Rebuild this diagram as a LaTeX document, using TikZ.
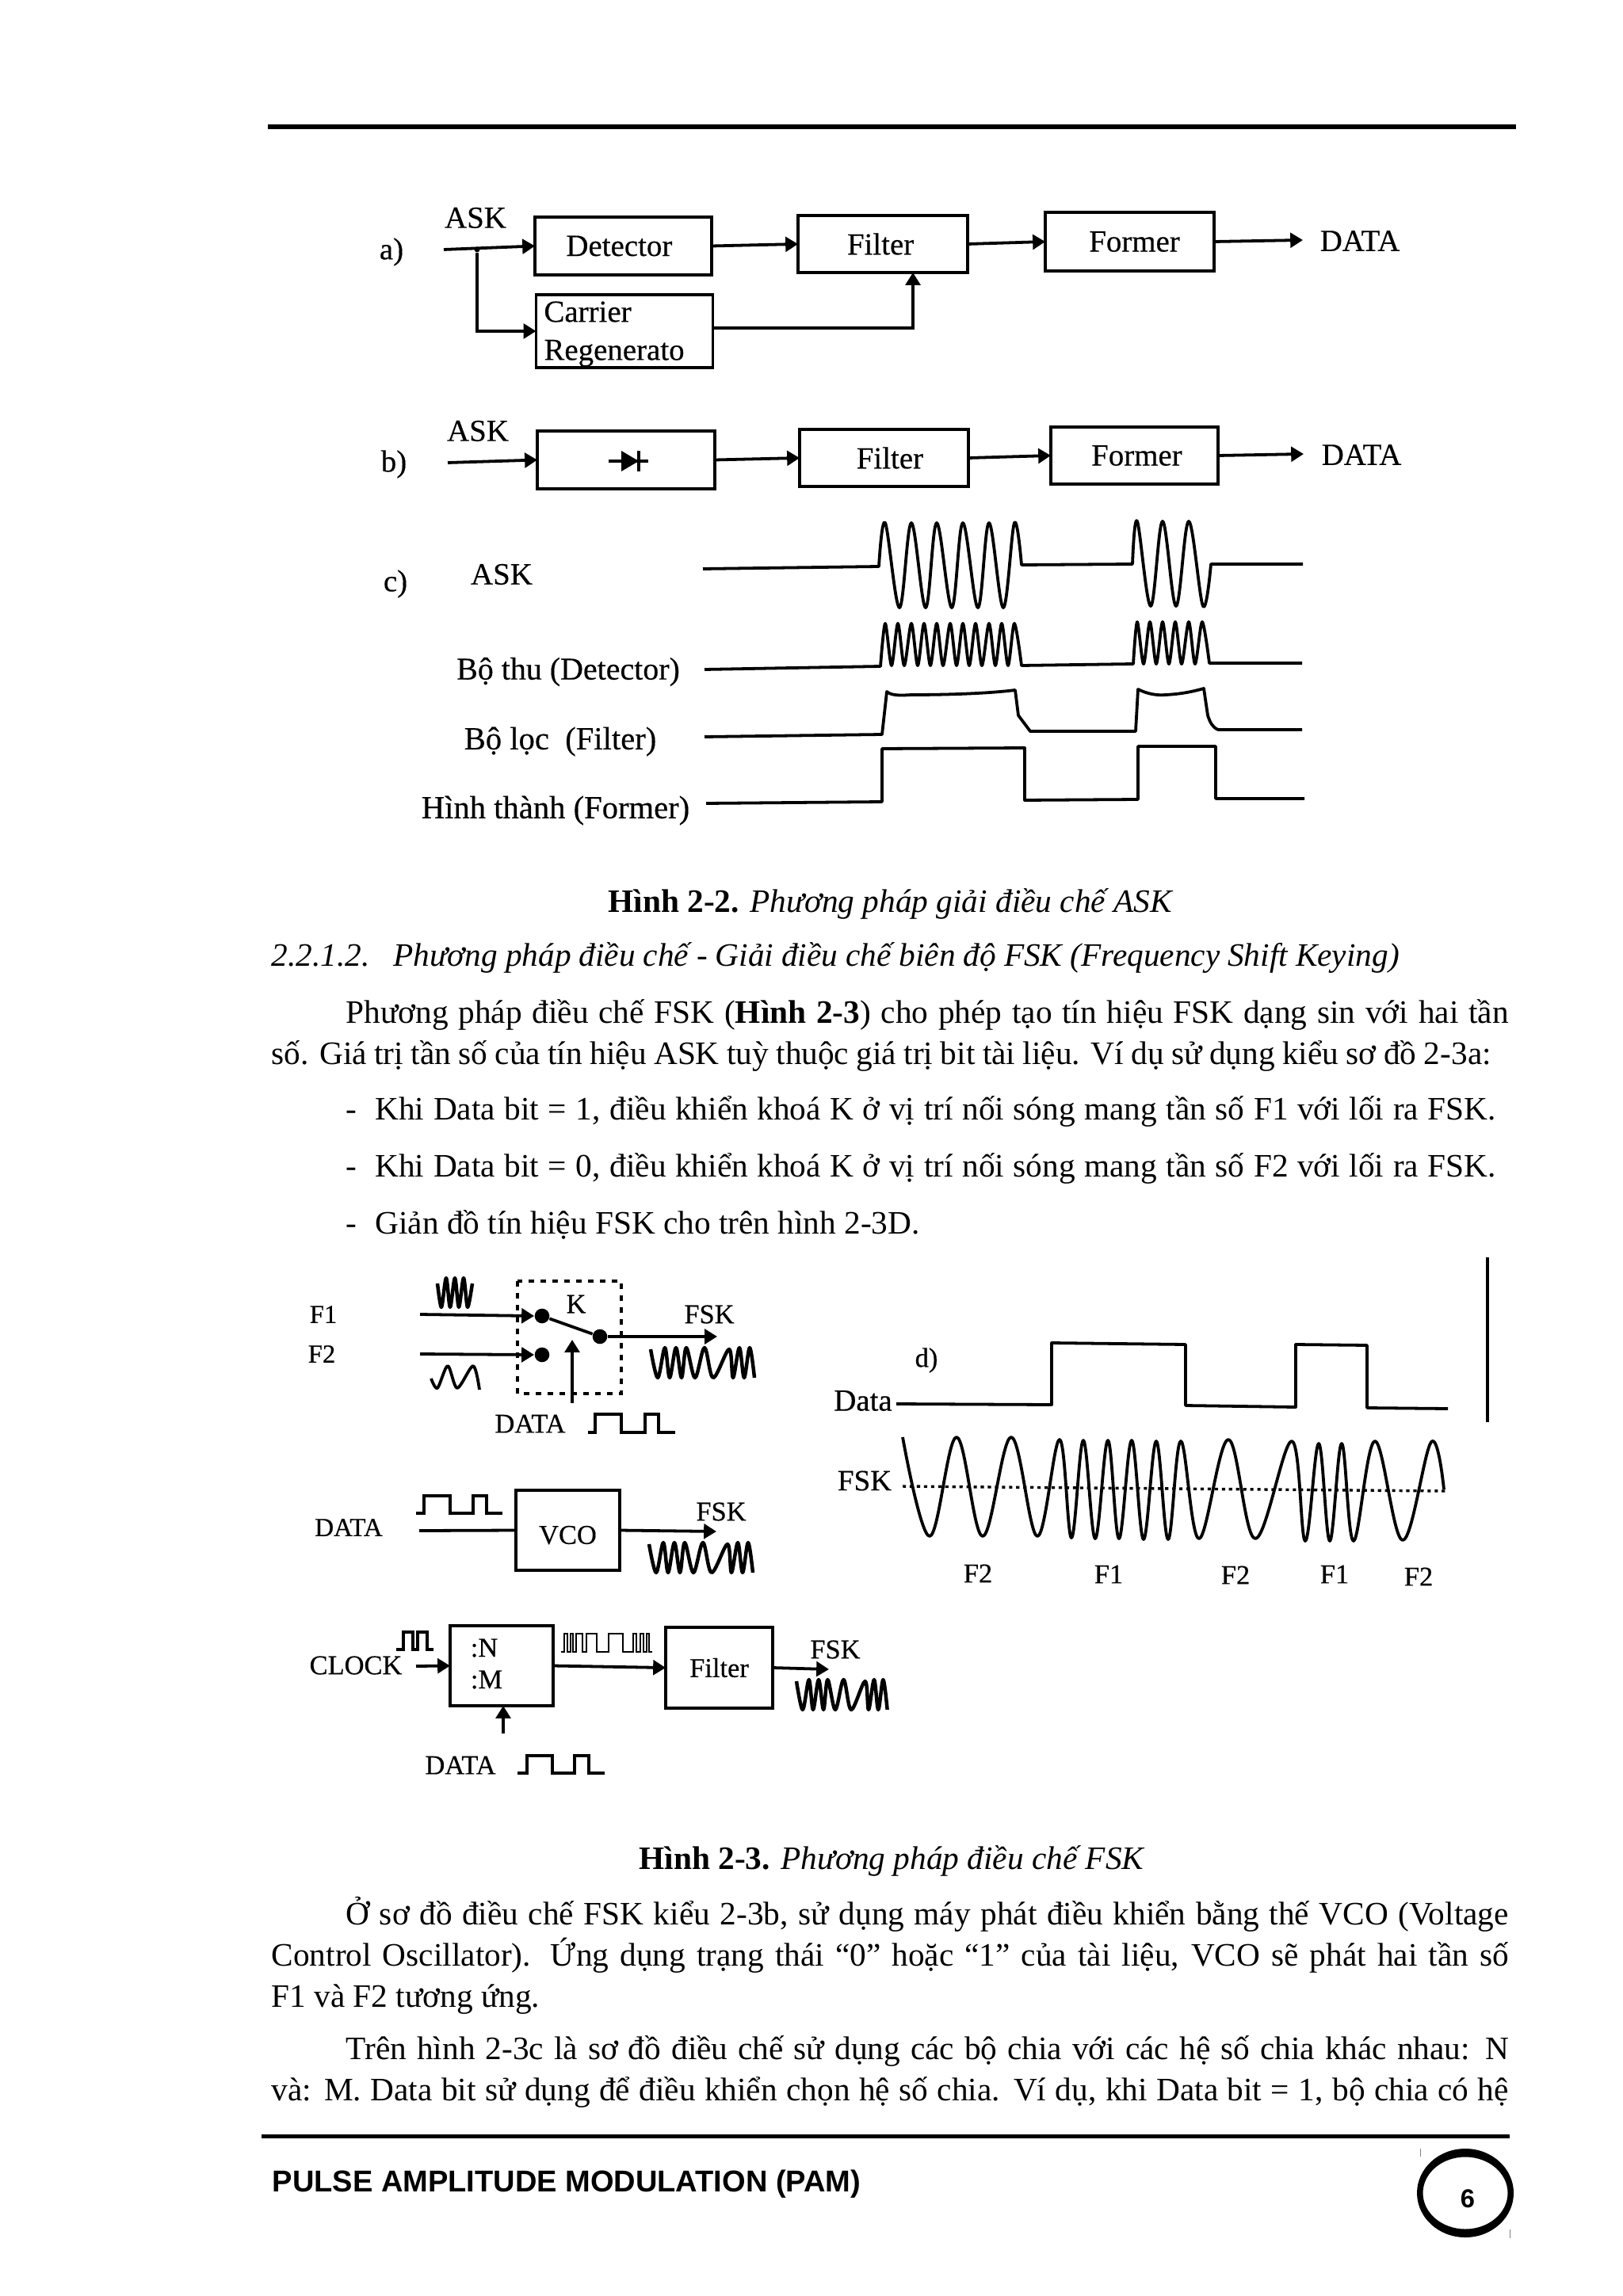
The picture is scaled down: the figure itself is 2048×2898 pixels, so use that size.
\documentclass[tikz,border=0pt]{standalone}
\usepackage{fontspec}
\usetikzlibrary{arrows.meta,calc}
\setmainfont{Liberation Serif}
\newfontfamily\scanfont[FakeBold=0.35]{Liberation Serif}
\newfontfamily\footfont{Liberation Sans}
\newdimen\pxu \pxu=0.2905pt
\newcommand\jline[5]{\node[bodytxt,anchor=base west] (#1) at (#2,#3) {\makebox[#4\pxu][s]{#5}};}
\newcommand\nline[4]{\node[bodytxt,anchor=base west] (#1) at (#2,#3) {#4};}
% name, x1,y1,x2,y2, text
\newcommand\bx[6]{\node[blk,minimum width={(#4-#2)*0.2905pt},minimum height={(#5-#3)*0.2905pt}] (#1) at ({(#2+#4)/2},{(#3+#5)/2}) {#6};}
\newcommand\minifsk[2]{\draw[wavefat,shift={(#1)},xscale=#2] plot[smooth,tension=.55] coordinates {(0,2)(9,38)(18,0)(24,38)(32,0)(39,38)(45,0)(56,38)(68,0)(79,38)(99,2)(104,38)(112,0)(118,38)(125,0)(131,38)};}
\tikzset{
  bodytxt/.style={font=\fontsize{12}{15}\selectfont,inner sep=0pt},
  big/.style={font=\scanfont\fontsize{11.3}{13}\selectfont,inner sep=0pt},
  mid/.style={font=\scanfont\fontsize{10}{12}\selectfont,inner sep=0pt},
  sml/.style={font=\scanfont\fontsize{9.5}{11}\selectfont,inner sep=0pt},
  blk/.style={draw,line width=1pt,inner sep=0pt,outer sep=0pt,font=\scanfont\fontsize{11.3}{13}\selectfont},
  blk2/.style={blk,font=\scanfont\fontsize{10}{12}\selectfont},
  arr/.style={line width=1.1pt,-{Triangle[length=4.6pt,width=5.4pt]}},
  plain/.style={line width=1.1pt},
  wave/.style={line width=1.1pt,line join=round},
  wavefat/.style={line width=1.3pt,line join=round},
  dotn/.style={circle,fill=black,inner sep=0pt,minimum size=5.4pt},
  pulse/.style={line width=.9pt,line join=miter},
}
\begin{document}
\begin{tikzpicture}[x=0.2905pt,y=-0.2905pt]
\useasboundingbox (0,0) rectangle (2048,2898);
\fill[white] (0,0) rectangle (2048,2898);
\fill[black] (338,157) rectangle (1913,163);
% ---- a)
\node[big] (la) at (494,318) {a)};
\node[big] (aska) at (600,275) {ASK};
\bx{det}{675}{274}{898}{347}{Detector\kern 3pt}
\bx{fila}{1007}{272}{1221}{344}{Filter\kern 1.7pt}
\bx{fora}{1319}{268}{1532}{342}{\kern 3.5ptFormer}
\node[blk,minimum height=92\pxu,text width=59pt,inner xsep=2.9pt,align=left] (car) at (788,418)
  {\rule{0pt}{9.6pt}Carrier\\[1pt]Regenerato};
\coordinate (ina) at (560,315);
\node[circle,fill=black,inner sep=0pt,minimum size=2pt] (ja) at (602,315) {};
\node[big,anchor=west] (dataa) at (1665,304) {DATA};
\coordinate (outa) at (1644,303);
\draw[arr] (ina) -- (det.west);
\draw[arr] (ja) |- (car.west);
\draw[arr] (det.east) -- (fila.west);
\draw[arr] (fila.east) -- (fora.west);
\draw[arr] (fora.east) -- (outa);
\draw[arr] ($(car.east)+(0,-4)$) -| ($(fila.south)+(38,0)$);
% ---- b)
\node[big] (lb) at (497,586) {b)};
\node[big] (askb) at (603,544) {ASK};
\bx{dio}{678}{544}{902}{617}{}
\bx{filb}{1009}{542}{1222}{614}{\kern 4.3ptFilter}
\bx{forb}{1326}{539}{1537}{611}{\kern 1.7ptFormer}
\coordinate (inb) at (565,584);
\coordinate (outb) at (1645,573);
\node[big,anchor=west] (datab) at (1667,574) {DATA};
\draw[arr] (inb) -- (dio.west);
\draw[arr] (dio.east) -- (filb.west);
\draw[arr] (filb.east) -- (forb.west);
\draw[arr] (forb.east) -- (outb);
\draw[line width=1.1pt] (768,582) -- (818,582);
\fill (784,569) -- (806,582) -- (784,595) -- cycle;
\draw[line width=1.1pt] (806,569) -- (806,595);
% ---- c)
\node[big] (lc) at (499,737) {c)};
\node[big] (askc) at (633,725) {ASK};
\node[big,font=\scanfont\fontsize{11.6}{13}\selectfont] (ldet) at (717,848) {Bộ thu (Detector)};
\node[big,font=\scanfont\fontsize{11.8}{13}\selectfont] (lfil) at (707,936) {Bộ lọc\ \ (Filter)};
\node[big,font=\scanfont\fontsize{11.8}{13}\selectfont] (lfor) at (701,1023) {Hình thành (Former)};
\draw[wave] (887,718) -- (1109,715) -- plot[smooth,tension=.6] coordinates {(1109,715)(1117,660)(1135,767)(1150,660)(1168,767)(1182,660)(1201,767)(1215,660)(1234,767)(1248,660)(1266,767)(1280,660)(1289,713)}
  -- (1429,712) -- plot[smooth,tension=.6] coordinates {(1429,712)(1435,658)(1452,765)(1467,658)(1484,765)(1500,658)(1518,765)(1528,712)} -- (1644,712);
\draw[wave] (889,845) -- (1111,841) -- plot[smooth,tension=.5] coordinates {(1111,841)(1117,787)(1125,840)(1133,787)(1141,840)(1150,787)(1158,840)(1166,787)(1174,840)(1182,787)(1190,840)(1199,787)(1207,840)(1215,787)(1223,840)(1231,787)(1239,840)(1248,787)(1256,840)(1264,787)(1272,840)(1280,787)(1289,840)}
  -- (1430,838) -- plot[smooth,tension=.5] coordinates {(1430,838)(1435,785)(1443,838)(1451,785)(1459,838)(1467,785)(1475,838)(1483,785)(1491,838)(1500,785)(1508,838)(1517,785)(1526,837)} -- (1643,837);
\draw[wave] (889,930) -- (1113,927) -- (1119,873) .. controls (1125,878) and (1135,878) .. (1150,877) .. controls (1200,877) and (1250,875) .. (1281,871) -- (1285,903) -- (1300,923) -- (1433,923) -- (1436,870) .. controls (1448,876) and (1460,878) .. (1471,877) .. controls (1490,876) and (1505,873) .. (1519,869) -- (1524,903) .. controls (1527,912) and (1530,918) .. (1537,921) -- (1643,921);
\draw[wave] (891,1014) -- (1113,1012) -- (1113,945) -- (1293,944) -- (1293,1010) -- (1436,1009) -- (1436,942) -- (1534,942) -- (1534,1008) -- (1646,1008);
% ---- captions & text
\nline{cap2}{767}{1151}{\textbf{Hình 2-2.} \textit{Phương pháp giải điều chế ASK}}
\jline{sec}{342}{1219}{1423}{\textit{2.2.1.2.\ \ \ Phương pháp điều chế - Giải điều chế biên độ FSK (Frequency Shift Keying)}}
\jline{p1a}{436}{1291}{1467}{Phương pháp điều chế FSK (\textbf{Hình 2-3}) cho phép tạo tín hiệu FSK dạng sin với hai tần}
\jline{p1b}{342}{1343}{1539}{số. Giá trị tần số của tín hiệu ASK tuỳ thuộc giá trị bit tài liệu. Ví dụ sử dụng kiểu sơ đồ 2-3a:}
\jline{p2}{436}{1413}{1451}{-\hspace{6.7pt}Khi Data bit = 1, điều khiển khoá K ở vị trí nối sóng mang tần số F1 với lối ra FSK.}
\jline{p3}{436}{1485}{1451}{-\hspace{6.7pt}Khi Data bit = 0, điều khiển khoá K ở vị trí nối sóng mang tần số F2 với lối ra FSK.}
\nline{p4}{436}{1557}{-\hspace{6.7pt}Giản đồ tín hiệu FSK cho trên hình 2-3D.}
\nline{cap3}{806}{2359}{\textbf{Hình 2-3.} \textit{Phương pháp điều chế FSK}}
\jline{q1}{436}{2429}{1467}{Ở sơ đồ điều chế FSK kiểu 2-3b, sử dụng máy phát điều khiển bằng thế VCO (Voltage}
\jline{q2}{342}{2481}{1561}{Control Oscillator). Ứng dụng trạng thái “0” hoặc “1” của tài liệu, VCO sẽ phát hai tần số}
\nline{q3}{342}{2533}{F1 và F2 tương ứng.}
\jline{q4}{436}{2599}{1467}{Trên hình 2-3c là sơ đồ điều chế sử dụng các bộ chia với các hệ số chia khác nhau: N}
\jline{q5}{342}{2651}{1561}{và: M. Data bit sử dụng để điều khiển chọn hệ số chia. Ví dụ, khi Data bit = 1, bộ chia có hệ}
% ---- FSK a
\node[sml] (f1) at (408,1659) {F1};
\node[sml] (f2) at (406,1709) {F2};
\draw[line width=1pt,dash pattern=on 7\pxu off 8\pxu] (653,1617) rectangle (784,1759);
\node[dotn] (d1) at (684,1661) {};
\node[dotn] (d2) at (684,1710) {};
\node[dotn] (d3) at (757,1687) {};
\coordinate (if1) at (530,1659);
\coordinate (if2) at (530,1709);
\coordinate (ofs) at (905,1687);
\coordinate (ku) at (722,1771);
\coordinate (kt) at (722,1691);
\draw[arr] (if1) -- (d1.west);
\draw[arr] (if2) -- (d2.west);
\draw[line width=1.1pt] (d1) -- (d3);
\draw[arr] (d3) -- (ofs);
\draw[arr] (ku) -- (kt);
\node[mid] (kk) at (727,1646) {K};
\node[mid] (fska) at (895,1659) {FSK};
\node[mid] (dta) at (669,1797) {DATA};
\draw[wavefat] plot[smooth,tension=.5] coordinates {(552,1620)(557,1650)(563,1613)(568,1650)(574,1613)(579,1650)(585,1613)(590,1650)(596,1620)};
\draw[wave] plot[smooth,tension=.5] coordinates {(544,1740)(552,1752)(565,1724)(577,1752)(597,1724)(605,1754)};
\draw[pulse] (742,1808) -- (751,1808) -- (751,1785) -- (784,1785) -- (784,1808) -- (814,1808) -- (814,1785) -- (831,1785) -- (831,1808) -- (852,1808);
\minifsk{821,1701}{1}
% ---- FSK b
\node[sml,font=\scanfont\fontsize{9.6}{11}\selectfont] (dtb) at (440,1928) {DATA};
\node[blk2,minimum width=131\pxu,minimum height=101\pxu] (vco) at (716.5,1931.5) {\raisebox{-5pt}[0pt][0pt]{VCO}};
\coordinate (ivco) at (529,1932);
\coordinate (ovco) at (904,1933);
\draw[plain] (ivco) -- (vco.west);
\draw[arr] (vco.east) -- (ovco);
\node[mid] (fskb) at (910,1908) {FSK};
\draw[pulse] (525,1910) -- (535,1910) -- (535,1888) -- (568,1888) -- (568,1910) -- (597,1910) -- (597,1888) -- (614,1888) -- (614,1910) -- (634,1910);
\minifsk{819,1947}{1}
% ---- FSK c
\node[mid] (clk) at (449,2102) {CLOCK};
\node[blk2,minimum width=130\pxu,minimum height=101\pxu] (nm) at (633,2102.5) {};
\node[mid] (nn) at (611,2080) {:N};
\node[mid] (mm) at (614,2120) {:M};
\node[blk2,minimum width=135\pxu,minimum height=102\pxu] (filc) at (907.5,2105) {Filter};
\coordinate (iclk) at (525,2103);
\coordinate (ofc) at (1046,2107);
\coordinate (idt) at (635,2188);
\draw[arr] (iclk) -- (nm.west);
\draw[arr] (nm.east) -- (filc.west);
\draw[arr] (filc.east) -- (ofc);
\draw[arr] (idt) -- (idt |- nm.south);
\node[mid] (fskc) at (1054,2082) {FSK};
\node[mid] (dtc) at (581,2228) {DATA};
\draw[pulse] (500,2082) -- (509,2082) -- (509,2060) -- (521,2060) -- (521,2082) -- (527,2082) -- (527,2060) -- (539,2060) -- (539,2082) -- (547,2082);
\draw[pulse,line width=.8pt] (708,2085) -- (712,2085) -- (712,2062) -- (716,2062) -- (716,2085) -- (720,2085) -- (720,2062) -- (723,2062) -- (723,2085) -- (727,2085) -- (727,2062) -- (735,2062) -- (735,2085) -- (740,2085) -- (740,2062) -- (753,2062) -- (753,2085) -- (768,2085) -- (768,2062) -- (786,2062) -- (786,2085) -- (799,2085) -- (799,2062) -- (803,2062) -- (803,2085) -- (808,2085) -- (808,2062) -- (812,2062) -- (812,2085) -- (816,2085) -- (816,2062) -- (819,2062) -- (819,2085) -- (823,2085);
\draw[pulse] (653,2238) -- (665,2238) -- (665,2216) -- (697,2216) -- (697,2238) -- (725,2238) -- (725,2216) -- (743,2216) -- (743,2238) -- (763,2238);
\minifsk{1005,2120}{.875}
% ---- FSK d
\draw[line width=1pt] (1877,1587) -- (1877,1795);
\node[mid] (ld) at (1169,1717) {d)};
\node[big] (ldat) at (1089,1768) {Data};
\node[big,font=\scanfont\fontsize{10.8}{13}\selectfont] (lfsk) at (1091,1869) {FSK};
\draw[wave] (1131,1772) -- (1327,1773) -- (1327,1695) -- (1496,1697) -- (1496,1774) -- (1635,1776) -- (1635,1697) -- (1725,1698) -- (1725,1777) -- (1827,1778);
\draw[line width=1pt,dash pattern=on 1.2pt off 1.4pt] (1139,1876) -- (1824,1882);
\draw[wave] plot[smooth,tension=.62] coordinates {(1139,1814)(1173,1939)(1207,1814)(1240,1939)(1276,1814)(1309,1939)(1337,1817)(1352,1941)(1367,1818)(1382,1942)(1398,1818)(1412,1942)(1428,1818)(1443,1943)(1459,1819)(1474,1943)(1490,1819)(1513,1942)(1550,1817)(1584,1942)(1630,1819)(1647,1945)(1664,1822)(1678,1945)(1693,1822)(1708,1945)(1735,1819)(1770,1944)(1806,1820)(1822,1880)};
\node[mid] (l1) at (1234,1986) {F2};
\node[mid] (l2) at (1399,1987) {F1};
\node[mid] (l3) at (1559,1988) {F2};
\node[mid] (l4) at (1684,1987) {F1};
\node[mid] (l5) at (1790,1990) {F2};
% ---- footer
\fill[black] (330,2693.5) rectangle (1905,2698.5);
\node[anchor=base west,inner sep=0pt,font=\footfont\bfseries\fontsize{11.05}{13}\selectfont] (foot) at (343,2766) {PULSE AMPLITUDE MODULATION (PAM)};
\fill[even odd rule] (1849,2768) ellipse [x radius=61,y radius=56] (1849,2768) ellipse [x radius=53.5,y radius=45.5];
\node[inner sep=0pt,font=\footfont\bfseries\fontsize{9.5}{11}\selectfont] (pg) at (1852,2775) {6};
\draw[gray,line width=.3pt] (1792,2712) -- (1792,2722);
\draw[gray,line width=.3pt] (1905,2814) -- (1905,2825);
\end{tikzpicture}
\end{document}
